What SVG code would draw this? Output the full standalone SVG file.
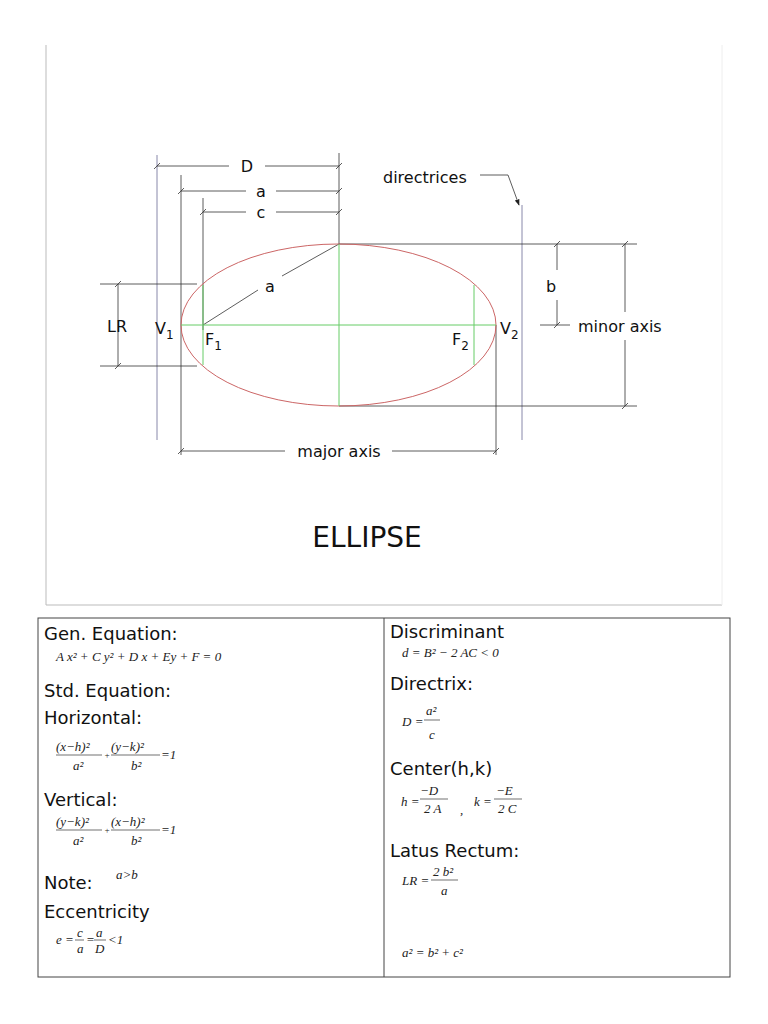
<svg xmlns="http://www.w3.org/2000/svg" width="768" height="1024" viewBox="0 0 768 1024">
<style>
.t{font-family:"DejaVu Sans",sans-serif;fill:#111}
.m{font-family:"Liberation Serif",serif;font-style:italic;fill:#222}
.d{stroke:#333;stroke-width:0.8;fill:none}
.g{stroke:#6c6;stroke-width:1;fill:none}
.b{stroke:#88a;stroke-width:1;fill:none}
</style>
<defs><marker id="ar" markerWidth="8" markerHeight="8" refX="7" refY="4" orient="auto"><path d="M0,1 L8,4 L0,7z" fill="#222"/></marker></defs>
<rect width="768" height="1024" fill="#fff"/>
<line x1="46" y1="45" x2="46" y2="605" stroke="#bbb"/>
<line x1="46" y1="605" x2="722" y2="605" stroke="#bbb"/>
<line x1="722" y1="45" x2="722" y2="605" stroke="#eee"/>
<g id="connectors">
<line class="b" x1="157" y1="155" x2="157" y2="440"/>
<line class="b" x1="522" y1="205" x2="522" y2="440"/>
<line class="d" x1="181" y1="175" x2="181" y2="455"/>
<line class="d" x1="203" y1="198" x2="203" y2="330"/>
<line class="d" x1="339" y1="153" x2="339" y2="244"/>
<line class="d" x1="496" y1="325" x2="496" y2="455"/>
<line class="d" x1="157" y1="166" x2="229" y2="166"/><line class="d" x1="265" y1="166" x2="339" y2="166"/>
<line class="d" x1="181" y1="191" x2="246" y2="191"/><line class="d" x1="276" y1="191" x2="339" y2="191"/>
<line class="d" x1="203" y1="212" x2="246" y2="212"/><line class="d" x1="276" y1="212" x2="339" y2="212"/>
<line class="d" x1="339" y1="244" x2="637" y2="244"/>
<line class="d" x1="339" y1="406" x2="637" y2="406"/>
<line class="d" x1="625" y1="244" x2="625" y2="312"/><line class="d" x1="625" y1="340" x2="625" y2="406"/>
<line class="d" x1="557" y1="244" x2="557" y2="270"/><line class="d" x1="557" y1="300" x2="557" y2="325"/>
<line class="d" x1="540" y1="325" x2="570" y2="325"/>
<line class="d" x1="100" y1="284" x2="197" y2="284"/><line class="d" x1="100" y1="366" x2="197" y2="366"/>
<line class="d" x1="118" y1="284" x2="118" y2="366"/>
<line class="d" x1="181" y1="451" x2="285" y2="451"/><line class="d" x1="392" y1="451" x2="496" y2="451"/>
<line class="d" x1="339" y1="244" x2="282" y2="276"/><line class="d" x1="258" y1="290" x2="203" y2="325"/>
<path class="d" d="M480,175 H508 L519,205" marker-end="url(#ar)"/>
<g stroke="#333" stroke-width="0.8">
<line x1="154" y1="169" x2="160" y2="163"/><line x1="336" y1="169" x2="342" y2="163"/>
<line x1="178" y1="194" x2="184" y2="188"/><line x1="336" y1="194" x2="342" y2="188"/>
<line x1="200" y1="215" x2="206" y2="209"/><line x1="336" y1="215" x2="342" y2="209"/>
<line x1="115" y1="287" x2="121" y2="281"/><line x1="115" y1="369" x2="121" y2="363"/>
<line x1="178" y1="454" x2="184" y2="448"/><line x1="493" y1="454" x2="499" y2="448"/>
<line x1="622" y1="247" x2="628" y2="241"/><line x1="622" y1="409" x2="628" y2="403"/>
<line x1="554" y1="247" x2="560" y2="241"/><line x1="554" y1="328" x2="560" y2="322"/>
</g>
</g>
<g id="ellipse">
<ellipse cx="338.5" cy="325" rx="157.5" ry="81" fill="none" stroke="#c66" stroke-width="1"/>
<line class="g" x1="181" y1="325" x2="496" y2="325"/>
<line class="g" x1="339" y1="244" x2="339" y2="406"/>
<line class="g" x1="203" y1="285" x2="203" y2="365"/>
<line class="g" x1="474" y1="285" x2="474" y2="365"/>
</g>
<g id="labels" class="t" font-size="16">
<text x="247" y="172" text-anchor="middle">D</text>
<text x="261" y="197" text-anchor="middle">a</text>
<text x="261" y="218" text-anchor="middle">c</text>
<text x="270" y="292" text-anchor="middle">a</text>
<text x="383" y="183">directrices</text>
<text x="107" y="332">LR</text>
<text x="155" y="334">V<tspan font-size="12" dy="5">1</tspan></text>
<text x="205" y="345">F<tspan font-size="12" dy="5">1</tspan></text>
<text x="452" y="345">F<tspan font-size="12" dy="5">2</tspan></text>
<text x="500" y="334">V<tspan font-size="12" dy="5">2</tspan></text>
<text x="551" y="292" text-anchor="middle">b</text>
<text x="578" y="332">minor axis</text>
<text x="339" y="457" text-anchor="middle">major axis</text>
<text x="367" y="547" text-anchor="middle" font-size="28">ELLIPSE</text>
</g>
<g id="table">
<rect x="38" y="618" width="692" height="359" fill="none" stroke="#444"/>
<line x1="384" y1="618" x2="384" y2="977" stroke="#444"/>
<g class="t" font-size="18">
<text x="44" y="640">Gen. Equation:</text>
<text x="44" y="697">Std. Equation:</text>
<text x="44" y="724">Horizontal:</text>
<text x="44" y="806">Vertical:</text>
<text x="44" y="889">Note:</text>
<text x="44" y="918">Eccentricity</text>
<text x="390" y="638">Discriminant</text>
<text x="390" y="690">Directrix:</text>
<text x="390" y="775">Center(h,k)</text>
<text x="390" y="857">Latus Rectum:</text>
</g>
<g class="m" font-size="13">
<text x="56" y="661">A x² + C y² + D x + Ey + F = 0</text>
<text x="56" y="751">(x−h)²</text><line x1="56" y1="755" x2="102" y2="755" stroke="#333" stroke-width="0.7"/><text x="73" y="770">a²</text>
<text x="104" y="758" font-size="9">+</text>
<text x="111" y="751">(y−k)²</text><line x1="111" y1="755" x2="160" y2="755" stroke="#333" stroke-width="0.7"/><text x="131" y="770">b²</text>
<text x="161" y="759">=1</text>
<text x="56" y="826">(y−k)²</text><line x1="56" y1="830" x2="102" y2="830" stroke="#333" stroke-width="0.7"/><text x="73" y="845">a²</text>
<text x="104" y="833" font-size="9">+</text>
<text x="111" y="826">(x−h)²</text><line x1="111" y1="830" x2="160" y2="830" stroke="#333" stroke-width="0.7"/><text x="131" y="845">b²</text>
<text x="161" y="834">=1</text>
<text x="116" y="879">a&gt;b</text>
<text x="56" y="944">e =</text><text x="77" y="937">c</text><line x1="75" y1="940" x2="84" y2="940" stroke="#333" stroke-width="0.7"/><text x="77" y="953">a</text>
<text x="86" y="944">=</text><text x="96" y="937">a</text><line x1="94" y1="940" x2="106" y2="940" stroke="#333" stroke-width="0.7"/><text x="95" y="953">D</text>
<text x="108" y="944">&lt;1</text>
<text x="402" y="657">d = B² − 2 AC &lt; 0</text>
<text x="402" y="726">D =</text><text x="426" y="715">a²</text><line x1="424" y1="720" x2="440" y2="720" stroke="#333" stroke-width="0.7"/><text x="429" y="739">c</text>
<text x="401" y="806">h =</text><text x="420" y="795">−D</text><line x1="420" y1="799" x2="448" y2="799" stroke="#333" stroke-width="0.7"/><text x="424" y="813">2 A</text>
<text x="460" y="814">,</text>
<text x="474" y="806">k =</text><text x="496" y="795">−E</text><line x1="494" y1="799" x2="522" y2="799" stroke="#333" stroke-width="0.7"/><text x="498" y="813">2 C</text>
<text x="402" y="885">LR =</text><text x="433" y="876">2 b²</text><line x1="431" y1="880" x2="458" y2="880" stroke="#333" stroke-width="0.7"/><text x="441" y="895">a</text>
<text x="402" y="957">a² = b² + c²</text>
</g>
</g>
</svg>
